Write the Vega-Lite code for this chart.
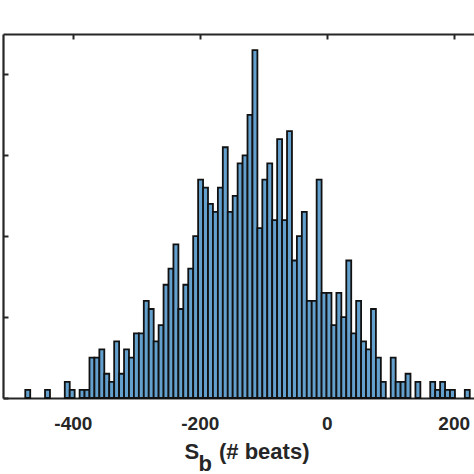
{
  "$schema": "https://vega.github.io/schema/vega-lite/v6.json",
  "width": 471,
  "height": 364,
  "autosize": {"type": "none"},
  "padding": {"left": 3, "top": 34, "right": 0, "bottom": 76},
  "background": "white",
  "data": {
    "values": [
      {"lo": -474.9, "hi": -467.12, "n": 1},
      {"lo": -443.78, "hi": -436.0, "n": 1},
      {"lo": -412.66, "hi": -404.88, "n": 2},
      {"lo": -404.88, "hi": -397.1, "n": 1},
      {"lo": -389.32, "hi": -381.54, "n": 1},
      {"lo": -381.54, "hi": -373.76, "n": 1},
      {"lo": -373.76, "hi": -365.98, "n": 5},
      {"lo": -365.98, "hi": -358.2, "n": 5},
      {"lo": -358.2, "hi": -350.42, "n": 6},
      {"lo": -350.42, "hi": -342.64, "n": 3},
      {"lo": -342.64, "hi": -334.86, "n": 2},
      {"lo": -334.86, "hi": -327.08, "n": 7},
      {"lo": -327.08, "hi": -319.3, "n": 3},
      {"lo": -319.3, "hi": -311.52, "n": 6},
      {"lo": -311.52, "hi": -303.74, "n": 5},
      {"lo": -303.74, "hi": -295.96, "n": 8},
      {"lo": -295.96, "hi": -288.18, "n": 8},
      {"lo": -288.18, "hi": -280.4, "n": 12},
      {"lo": -280.4, "hi": -272.62, "n": 11},
      {"lo": -272.62, "hi": -264.84, "n": 7},
      {"lo": -264.84, "hi": -257.06, "n": 9},
      {"lo": -257.06, "hi": -249.28, "n": 14},
      {"lo": -249.28, "hi": -241.5, "n": 16},
      {"lo": -241.5, "hi": -233.72, "n": 19},
      {"lo": -233.72, "hi": -225.94, "n": 11},
      {"lo": -225.94, "hi": -218.16, "n": 14},
      {"lo": -218.16, "hi": -210.38, "n": 16},
      {"lo": -210.38, "hi": -202.6, "n": 20},
      {"lo": -202.6, "hi": -194.82, "n": 27},
      {"lo": -194.82, "hi": -187.04, "n": 26},
      {"lo": -187.04, "hi": -179.26, "n": 24},
      {"lo": -179.26, "hi": -171.48, "n": 23},
      {"lo": -171.48, "hi": -163.7, "n": 26},
      {"lo": -163.7, "hi": -155.92, "n": 31},
      {"lo": -155.92, "hi": -148.14, "n": 23},
      {"lo": -148.14, "hi": -140.36, "n": 25},
      {"lo": -140.36, "hi": -132.58, "n": 29},
      {"lo": -132.58, "hi": -124.8, "n": 30},
      {"lo": -124.8, "hi": -117.02, "n": 35},
      {"lo": -117.02, "hi": -109.24, "n": 43},
      {"lo": -109.24, "hi": -101.46, "n": 21},
      {"lo": -101.46, "hi": -93.68, "n": 27},
      {"lo": -93.68, "hi": -85.9, "n": 29},
      {"lo": -85.9, "hi": -78.12, "n": 22},
      {"lo": -78.12, "hi": -70.34, "n": 32},
      {"lo": -70.34, "hi": -62.56, "n": 22},
      {"lo": -62.56, "hi": -54.78, "n": 33},
      {"lo": -54.78, "hi": -47.0, "n": 17},
      {"lo": -47.0, "hi": -39.22, "n": 20},
      {"lo": -39.22, "hi": -31.44, "n": 23},
      {"lo": -31.44, "hi": -23.66, "n": 12},
      {"lo": -23.66, "hi": -15.88, "n": 12},
      {"lo": -15.88, "hi": -8.1, "n": 27},
      {"lo": -8.1, "hi": -0.32, "n": 13},
      {"lo": -0.32, "hi": 7.46, "n": 13},
      {"lo": 7.46, "hi": 15.24, "n": 9},
      {"lo": 15.24, "hi": 23.02, "n": 13},
      {"lo": 23.02, "hi": 30.8, "n": 10},
      {"lo": 30.8, "hi": 38.58, "n": 17},
      {"lo": 38.58, "hi": 46.36, "n": 8},
      {"lo": 46.36, "hi": 54.14, "n": 12},
      {"lo": 54.14, "hi": 61.92, "n": 7},
      {"lo": 61.92, "hi": 69.7, "n": 6},
      {"lo": 69.7, "hi": 77.48, "n": 11},
      {"lo": 77.48, "hi": 85.26, "n": 5},
      {"lo": 85.26, "hi": 93.04, "n": 2},
      {"lo": 100.82, "hi": 108.6, "n": 5},
      {"lo": 108.6, "hi": 116.38, "n": 2},
      {"lo": 116.38, "hi": 124.16, "n": 2},
      {"lo": 124.16, "hi": 131.94, "n": 3},
      {"lo": 139.72, "hi": 147.5, "n": 2},
      {"lo": 163.06, "hi": 170.84, "n": 2},
      {"lo": 170.84, "hi": 178.62, "n": 1},
      {"lo": 178.62, "hi": 186.4, "n": 2},
      {"lo": 186.4, "hi": 194.18, "n": 1},
      {"lo": 194.18, "hi": 201.96, "n": 1},
      {"lo": 217.52, "hi": 225.3, "n": 1}
    ]
  },
  "layer": [
    {
      "mark": {"type": "bar", "fill": "#64a0cd", "stroke": "#111111", "strokeWidth": 1.8},
      "encoding": {
        "x": {
          "field": "lo",
          "type": "quantitative",
          "scale": {"domain": [-510, 232], "nice": false, "zero": false},
          "axis": {
            "orient": "bottom",
            "values": [-400, -200, 0, 200],
            "labelExpr": "replace(datum.label, '\u2212', '-')",
            "tickSize": -5,
            "labelPadding": 21,
            "grid": false,
            "title": "S\u2002\u2009\u2009(# beats)",
            "titleX": 181,
            "titleY": 60,
            "titleAlign": "left",
            "titleBaseline": "alphabetic"
          }
        },
        "x2": {"field": "hi"},
        "y": {
          "field": "n",
          "type": "quantitative",
          "scale": {"domain": [0, 45], "nice": false},
          "axis": {
            "values": [0, 10, 20, 30, 40],
            "tickSize": -5,
            "labels": false,
            "grid": false,
            "title": null
          }
        },
        "y2": {"datum": 0}
      }
    },
    {
      "mark": {"type": "rule", "opacity": 0},
      "encoding": {
        "x": {
          "field": "lo",
          "type": "quantitative",
          "axis": {
            "orient": "top",
            "values": [-400, -200, 0, 200],
            "tickSize": -5,
            "labels": false,
            "grid": false,
            "title": "b",
            "titleX": 195,
            "titleY": 436,
            "titleAlign": "left",
            "titleBaseline": "alphabetic"
          }
        }
      }
    }
  ],
  "resolve": {"axis": {"x": "independent"}},
  "config": {
    "view": {"stroke": null},
    "axis": {
      "domainColor": "#262626",
      "domainWidth": 2.2,
      "tickColor": "#262626",
      "tickWidth": 2,
      "labelFont": "Liberation Sans",
      "labelFontWeight": "bold",
      "labelFontSize": 19,
      "labelColor": "#262626",
      "titleFont": "Liberation Sans",
      "titleFontWeight": "bold",
      "titleFontSize": 22,
      "titleColor": "#262626"
    }
  }
}
